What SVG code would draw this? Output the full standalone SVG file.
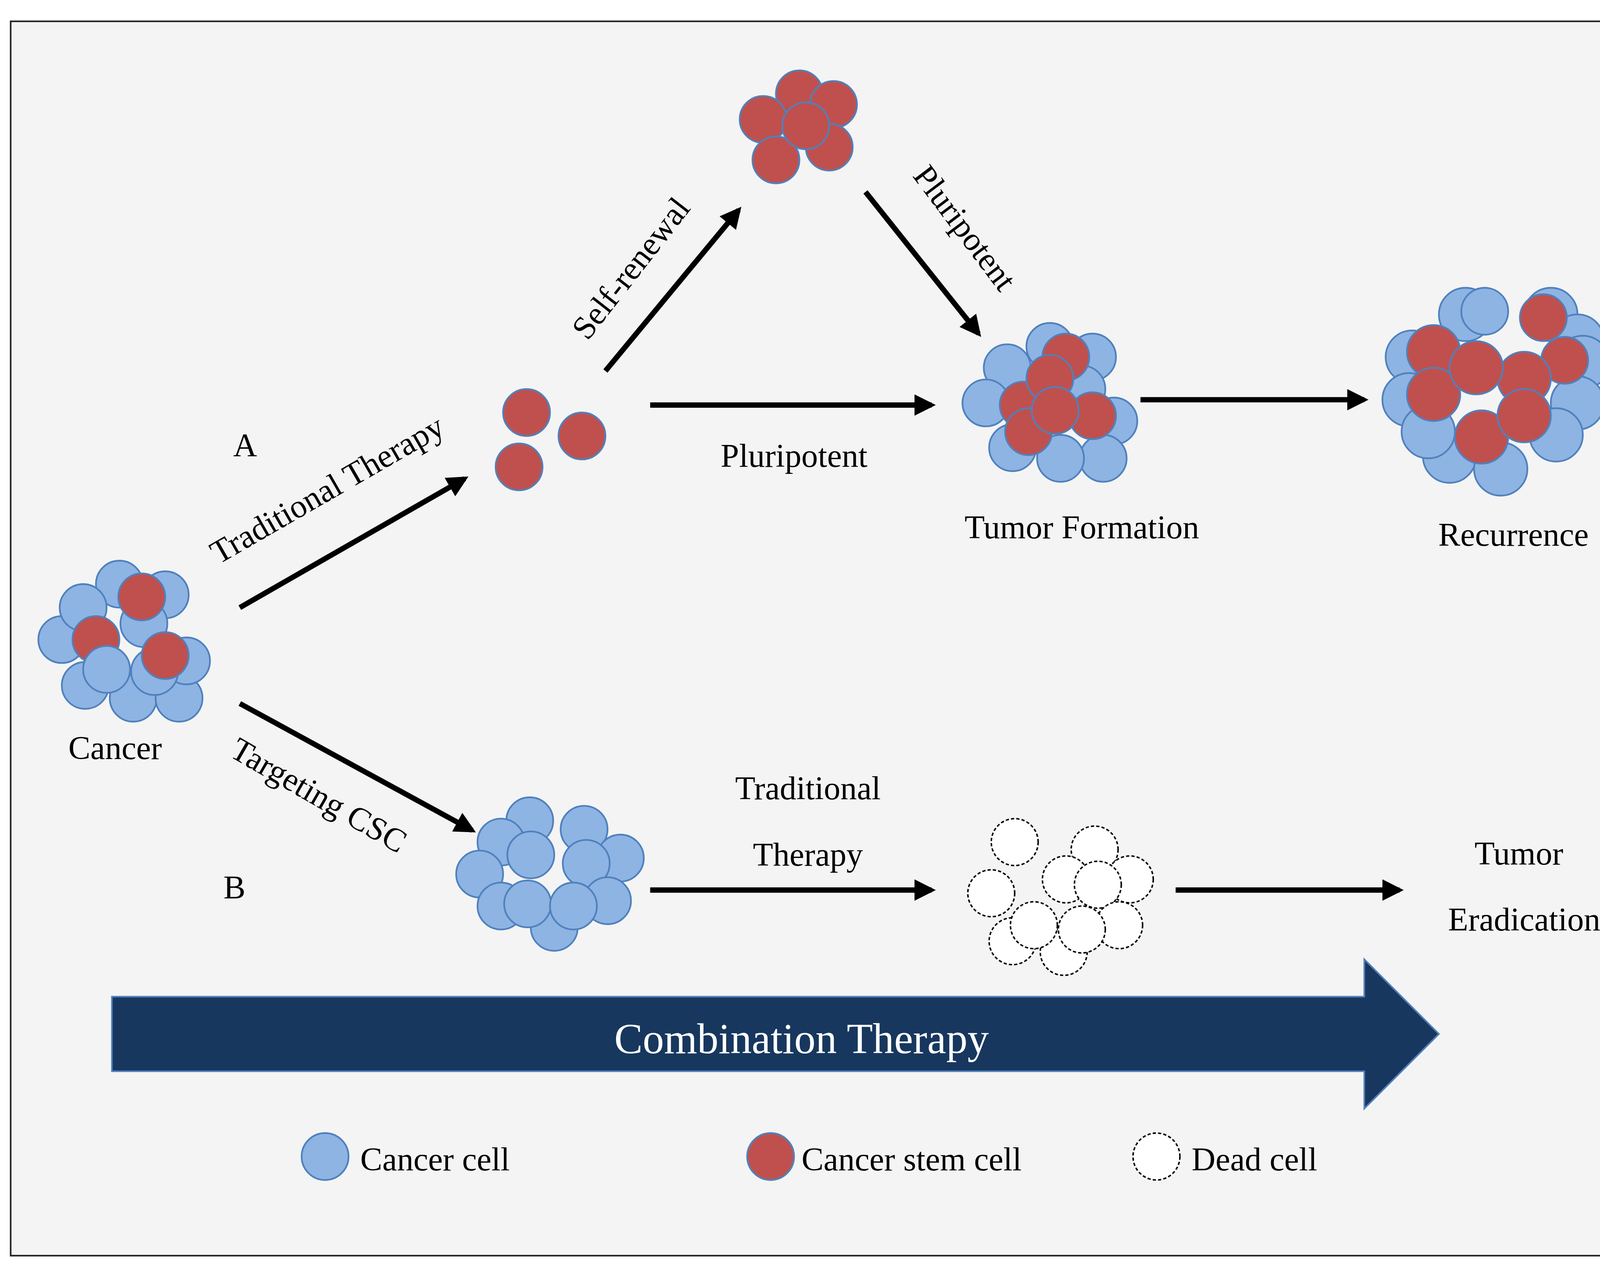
<svg xmlns="http://www.w3.org/2000/svg" width="4262" height="3251" viewBox="0 0 4262 3251">
<defs>
<style>
.b{fill:#8eb4e3;stroke:#4f81bd;stroke-width:1.6}
.r{fill:#c0504d;stroke:#4f81bd;stroke-width:1.6}
.d{fill:#fff;stroke:#000;stroke-width:1.4;stroke-dasharray:3 2}
.t{font-family:"Liberation Serif",serif;font-size:31px;fill:#000;text-anchor:middle}
.a{stroke:#000;stroke-width:5;fill:none;marker-end:url(#ah)}
</style>
<marker id="ah" viewBox="0 0 10 10" refX="8" refY="5" markerWidth="4" markerHeight="4" orient="auto" markerUnits="strokeWidth"><path d="M0,0L10,5L0,10z" fill="#000"/></marker>
</defs>
<rect width="4262" height="3251" fill="#fff"/>
<g transform="scale(2.7286)">
<rect x="10" y="20" width="1543" height="1158" fill="#f4f4f4" stroke="#222" stroke-width="1.5"/>
<g id="connectors">
<line class="a" x1="225" y1="570" x2="436" y2="449"/>
<line class="a" x1="568" y1="348" x2="693" y2="197"/>
<line class="a" x1="812" y1="180" x2="918" y2="313"/>
<line class="a" x1="610" y1="380" x2="874" y2="380"/>
<line class="a" x1="1070" y1="375" x2="1280" y2="375"/>
<line class="a" x1="225" y1="660" x2="443" y2="779"/>
<line class="a" x1="610" y1="835" x2="874" y2="835"/>
<line class="a" x1="1103" y1="835" x2="1313" y2="835"/>
</g>
<g id="cancer">
<circle class="b" cx="112" cy="548" r="22"/><circle class="b" cx="155" cy="558" r="22"/><circle class="b" cx="58" cy="600" r="22"/><circle class="b" cx="135" cy="585" r="22"/><circle class="b" cx="78" cy="570" r="22"/>
<circle class="r" cx="133" cy="560" r="22"/><circle class="r" cx="90" cy="600" r="22"/>
<circle class="b" cx="80" cy="643" r="22"/><circle class="b" cx="125" cy="655" r="22"/><circle class="b" cx="168" cy="655" r="22"/><circle class="b" cx="175" cy="620" r="22"/><circle class="b" cx="145" cy="630" r="22"/><circle class="b" cx="100" cy="628" r="22"/>
<circle class="r" cx="155" cy="615" r="22"/>
</g>
<g id="csc3"><circle class="r" cx="494" cy="387" r="22"/><circle class="r" cx="546" cy="409" r="22"/><circle class="r" cx="487" cy="438" r="22"/></g>
<g id="selfrenew"><circle class="r" cx="750" cy="88" r="22"/><circle class="r" cx="782" cy="98" r="22"/><circle class="r" cx="716" cy="112" r="22"/><circle class="r" cx="778" cy="138" r="22"/><circle class="r" cx="728" cy="150" r="22"/><circle class="r" cx="756" cy="118" r="22"/></g>
<g id="tumor">
<circle class="b" cx="985" cy="325" r="22"/><circle class="b" cx="945" cy="345" r="22"/><circle class="b" cx="1025" cy="335" r="22"/><circle class="b" cx="925" cy="378" r="22"/><circle class="b" cx="1045" cy="395" r="22"/><circle class="b" cx="1035" cy="430" r="22"/><circle class="b" cx="995" cy="430" r="22"/><circle class="b" cx="950" cy="420" r="22"/><circle class="b" cx="1015" cy="365" r="22"/>
<circle class="r" cx="1000" cy="335" r="22"/><circle class="r" cx="960" cy="380" r="22"/><circle class="r" cx="985" cy="355" r="22"/><circle class="r" cx="1025" cy="390" r="22"/><circle class="r" cx="965" cy="405" r="22"/><circle class="r" cx="990" cy="385" r="22"/>
</g>
<g id="recurrence">
<circle class="b" cx="1375" cy="295" r="25"/><circle class="b" cx="1455" cy="295" r="25"/><circle class="b" cx="1480" cy="320" r="25"/><circle class="b" cx="1325" cy="335" r="25"/><circle class="b" cx="1485" cy="340" r="25"/><circle class="b" cx="1322" cy="375" r="25"/><circle class="b" cx="1480" cy="378" r="25"/><circle class="b" cx="1360" cy="428" r="25"/><circle class="b" cx="1408" cy="440" r="25"/><circle class="b" cx="1460" cy="408" r="25"/><circle class="b" cx="1340" cy="405" r="25"/>
<circle class="r" cx="1345" cy="330" r="25"/><circle class="r" cx="1448" cy="298" r="22"/><circle class="r" cx="1468" cy="338" r="22"/><circle class="r" cx="1345" cy="370" r="25"/><circle class="r" cx="1430" cy="355" r="25"/><circle class="r" cx="1390" cy="410" r="25"/><circle class="r" cx="1385" cy="345" r="25"/>
<circle class="b" cx="1393" cy="292" r="22"/><circle class="r" cx="1430" cy="390" r="25"/>
</g>
<g id="cancerB">
<circle class="b" cx="497" cy="770" r="22"/><circle class="b" cx="548" cy="778" r="22"/><circle class="b" cx="470" cy="790" r="22"/><circle class="b" cx="582" cy="805" r="22"/><circle class="b" cx="450" cy="820" r="22"/><circle class="b" cx="550" cy="810" r="22"/><circle class="b" cx="498" cy="802" r="22"/><circle class="b" cx="470" cy="850" r="22"/><circle class="b" cx="570" cy="845" r="22"/><circle class="b" cx="520" cy="870" r="22"/><circle class="b" cx="495" cy="848" r="22"/><circle class="b" cx="538" cy="850" r="22"/>
</g>
<g id="dead">
<circle class="d" cx="952" cy="790" r="22"/><circle class="d" cx="1027" cy="797" r="22"/><circle class="d" cx="930" cy="838" r="22"/><circle class="d" cx="1060" cy="825" r="22"/><circle class="d" cx="1000" cy="825" r="22"/><circle class="d" cx="1030" cy="830" r="22"/><circle class="d" cx="950" cy="883" r="22"/><circle class="d" cx="1050" cy="868" r="22"/><circle class="d" cx="998" cy="893" r="22"/><circle class="d" cx="970" cy="868" r="22"/><circle class="d" cx="1015" cy="872" r="22"/>
</g>
<g id="combination">
<polygon points="105,935 1280,935 1280,900 1350,970 1280,1040 1280,1005 105,1005" fill="#17375e" stroke="#4f81bd" stroke-width="1.5"/>
<text class="t" x="752" y="988" style="fill:#fff;font-size:40px">Combination Therapy</text>
</g>
<g id="legend">
<circle class="b" cx="305" cy="1085" r="22"/><text class="t" x="338" y="1098" style="text-anchor:start">Cancer cell</text>
<circle class="r" cx="723" cy="1085" r="22"/><text class="t" x="752" y="1098" style="text-anchor:start">Cancer stem cell</text>
<circle class="d" cx="1085" cy="1085" r="22"/><text class="t" x="1118" y="1098" style="text-anchor:start">Dead cell</text>
</g>
<g id="labels">
<text class="t" x="230" y="428">A</text>
<text class="t" x="220" y="843">B</text>
<text class="t" x="108" y="712">Cancer</text>
<text class="t" transform="translate(312,468) rotate(-30)">Traditional Therapy</text>
<text class="t" transform="translate(600,258) rotate(-52)">Self-renewal</text>
<text class="t" transform="translate(897,220) rotate(53)">Pluripotent</text>
<text class="t" x="745" y="438">Pluripotent</text>
<text class="t" x="1015" y="505">Tumor Formation</text>
<text class="t" x="1420" y="512">Recurrence</text>
<text class="t" transform="translate(294,755) rotate(30)">Targeting CSC</text>
<text class="t" x="758" y="750">Traditional</text>
<text class="t" x="758" y="812">Therapy</text>
<text class="t" x="1425" y="811">Tumor</text>
<text class="t" x="1430" y="873">Eradication</text>
</g>
</g>
</svg>
